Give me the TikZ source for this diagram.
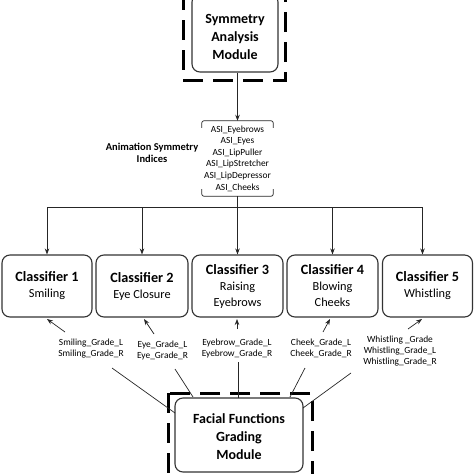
\documentclass[tikz,border=0pt]{standalone}
\usepackage{fontspec}
\setmainfont{Carlito}
\usetikzlibrary{arrows.meta,calc}
\begin{document}
\begin{tikzpicture}[x=1pt,y=-1pt,
  box/.style={draw=black!80,line width=1.1pt,rounded corners=8pt,fill=white},
  dashbox/.style={draw=black,line width=3pt,dash pattern=on 20pt off 10pt},
  conn/.style={draw=black!85,line width=0.7pt},
  arr/.style={conn,-{Stealth[length=6pt,width=4.5pt]}},
  cls/.style={box,minimum width=90pt,minimum height=62pt,align=center,inner sep=0pt,font=\fontsize{12.3}{16}\selectfont},
  grade/.style={align=center,inner sep=1pt,font=\fontsize{9.4}{11}\selectfont},
  modtext/.style={align=center,font=\fontsize{14}{18}\selectfont\bfseries}
]
\useasboundingbox (0,0) rectangle (474,474);
\clip (0,0) rectangle (474,474);

% top module
\draw[dashbox] (183,-10) rectangle (285,80);
\node[box,minimum width=86pt,minimum height=78pt] (sam) at (235,33) {};
\node[modtext] (samt) at (235,37) {Symmetry\\Analysis\\Module};

% ASI list
\node[grade,minimum width=71pt,minimum height=75pt,font=\fontsize{9.4}{11.6}\selectfont] (asi) at (237.5,158.5)
  {ASI\_Eyebrows\\ASI\_Eyes\\ASI\_LipPuller\\ASI\_LipStretcher\\ASI\_LipDepressor\\ASI\_Cheeks};
\draw[conn,rounded corners=2pt] ([yshift=-7pt]asi.north west) -- (asi.north west) -- (asi.north east) -- ([yshift=-7pt]asi.north east);
\draw[conn,rounded corners=2pt] ([yshift=7pt]asi.south west) -- (asi.south west) -- (asi.south east) -- ([yshift=7pt]asi.south east);
\node[align=center,font=\fontsize{10.5}{12}\selectfont\bfseries] (asil) at (152,153) {Animation Symmetry\\Indices};
\draw[arr] (sam.south -| asi.north) -- (asi.north);

% classifiers
\node[cls] (c1) at (47,286) {{\fontsize{14.2}{16}\selectfont\bfseries Classifier 1}\\Smiling};
\node[cls,minimum width=92pt] (c2) at (142,286) {{\fontsize{14.2}{16}\selectfont\bfseries Classifier 2}\\Eye Closure};
\node[cls,minimum width=91pt] (c3) at (237.5,286) {{\fontsize{14.2}{16}\selectfont\bfseries Classifier 3}\\Raising\\Eyebrows};
\node[cls,minimum width=91pt] (c4) at (332.5,286) {{\fontsize{14.2}{16}\selectfont\bfseries Classifier 4}\\Blowing\\Cheeks};
\node[cls] (c5) at (427.5,286) {{\fontsize{14.2}{16}\selectfont\bfseries Classifier 5}\\Whistling};

\coordinate (bus) at (237.5,207);
\draw[conn] (asi.south) -- (bus);
\draw[arr] (bus) -| (c1.north);
\draw[arr] (bus) -| (c2.north);
\draw[arr] (bus) -- (c3.north);
\draw[arr] (bus) -| (c4.north);
\draw[arr] (bus) -| ([xshift=-5pt]c5.north);

% grade labels
\node[grade] (sg) at (91,348.5) {Smiling\_Grade\_L\\Smiling\_Grade\_R};
\node[grade] (eg) at (162.5,350.5) {Eye\_Grade\_L\\Eye\_Grade\_R};
\node[grade] (ebg) at (237,348.5) {Eyebrow\_Grade\_L\\Eyebrow\_Grade\_R};
\node[grade] (cg) at (321,348.5) {Cheek\_Grade\_L\\Cheek\_Grade\_R};
\node[grade] (wg) at (400,351.5) {Whistling \_Grade\\Whistling\_Grade\_L\\Whistling\_Grade\_R};

% bottom module
\draw[dashbox] (168,393) rectangle (312,500);
\node[box,minimum width=128pt,minimum height=74pt] (ffg) at (239,435) {};
\node[modtext] (ffgt) at (239,436.5) {Facial Functions\\Grading\\Module};

% arrows label -> classifier
\draw[arr] (65,332) -- (47,319);
\draw[arr] (154,334) -- (144,319);
\draw[arr] (237,329) -- (237,319);
\draw[arr] (323,332) -- (330,319);
\draw[arr] (408,329) -- (422,319);

% lines label -> grading module
\draw[conn] (112,368) -- (175,413);
\draw[conn] (175,369) -- (193,397);
\draw[conn] (238,362) -- (238,398);
\draw[conn] (305,368) -- (290,397);
\draw[conn] (351,373) -- (303,408);
\end{tikzpicture}
\end{document}
